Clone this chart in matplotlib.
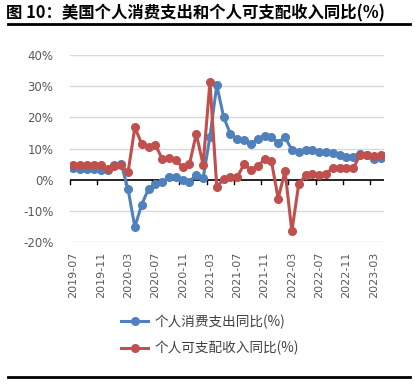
import matplotlib
matplotlib.use("Agg")
import matplotlib.pyplot as plt
from matplotlib.lines import Line2D

plt.rcParams['font.family'] = ['Noto Sans CJK SC', 'DejaVu Sans']

months = []
for y in range(2019, 2024):
	for m in range(1, 13):
		if (y == 2019 and m < 7) or (y == 2023 and m > 4):
			continue
		months.append("%d-%02d" % (y, m))

pce_yoy = [3.7, 3.5, 3.4, 3.3, 3.1, 3.0, 4.6, 5.0, -3.0, -15.2,
	-8.0, -3.0, -1.3, -0.9, 0.9, 0.8, -0.2, -0.6, 1.6, 0.4,
	13.8, 30.3, 20.2, 14.6, 13.0, 12.8, 11.5, 13.0, 14.0, 13.6,
	11.9, 13.6, 9.6, 9.0, 9.4, 9.4, 8.9, 8.8, 8.7, 8.0,
	7.2, 7.4, 8.3, 7.8, 6.6, 6.9]
dpi_yoy = [4.6, 4.7, 4.8, 4.6, 4.8, 3.4, 4.5, 4.6, 2.3, 16.8,
	11.5, 10.6, 11.2, 6.7, 6.9, 6.2, 4.0, 5.0, 14.7, 4.8,
	31.4, -2.4, 0.2, 0.9, 0.9, 4.9, 3.2, 4.3, 6.5, 6.0,
	-6.1, 2.8, -16.6, -1.5, 1.4, 1.9, 1.6, 1.9, 3.8, 3.8,
	3.8, 3.8, 7.8, 7.8, 7.6, 7.8]

names = ["个人消费支出同比(%)", "个人可支配收入同比(%)"]
blue = "#4F81BD"
red = "#C0504D"

fig = plt.figure(figsize=(4.15, 3.87), dpi=100)
ax = fig.add_axes([70 / 415, 1 - 242 / 387, 314 / 415, 187 / 387])

x = list(range(len(months)))
ax.plot(x, pce_yoy, color=blue, lw=2.2, marker='o', ms=5.5, zorder=3)
ax.plot(x, dpi_yoy, color=red, lw=2.2, marker='o', ms=5.5, zorder=4)

ax.set_xlim(-0.5, len(months) - 0.5)
ax.set_ylim(-20, 40)
ax.set_yticks(range(-20, 41, 10))
ax.set_yticklabels(["%d%%" % v for v in range(-20, 41, 10)], color="#595959", fontsize=8.5,
	family=['DejaVu Sans'])
ax.tick_params(axis='y', length=0, pad=12)
for v in range(-20, 41, 10):
	if v != 0:
		ax.axhline(v, color="#D9D9D9", lw=1, zorder=1)
ax.axhline(0, color="black", lw=1.2, zorder=2)
for s in ax.spines.values():
	s.set_visible(False)

# category ticks on the zero line
for k in range(0, len(months), 4):
	ax.plot([k - 0.5, k - 0.5], [0, -1.3], color="black", lw=1, zorder=2, clip_on=False)
ax.set_xticks(x[::4])
ax.set_xticklabels(months[::4], rotation=90, color="#595959", fontsize=8,
	family=['DejaVu Sans'])
ax.tick_params(axis='x', length=0, pad=7)

handles = [Line2D([], [], color=blue, lw=2.2, marker='o', ms=5.5),
	Line2D([], [], color=red, lw=2.2, marker='o', ms=5.5)]
fig.legend(handles, names, loc='center', bbox_to_anchor=(210 / 415, 1 - 335 / 387),
	frameon=False, labelcolor="#404040", handlelength=2.0,
	labelspacing=0.85, handletextpad=0.45,
	prop={'family': ['Noto Sans CJK SC'], 'weight': 'light', 'size': 9.8})

fig.text(6 / 415, 1 - 13 / 387, "图 10：美国个人消费支出和个人可支配收入同比(%)",
	fontsize=11.8, fontweight='bold', va='center', ha='left')
fig.add_artist(Line2D([8 / 415, 410 / 415], [1 - 24 / 387, 1 - 24 / 387], color="black", lw=2))
fig.add_artist(Line2D([8 / 415, 410 / 415], [1 - 377 / 387, 1 - 377 / 387], color="black", lw=2))

fig.savefig("out.png", dpi=100)
